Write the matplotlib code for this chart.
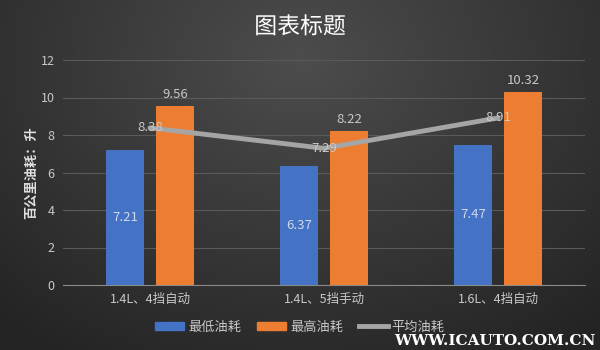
import numpy as np
import matplotlib
matplotlib.use("Agg")
import matplotlib.pyplot as plt
import matplotlib.patheffects as pe

plt.rcParams['font.family'] = ['Noto Sans CJK SC', 'DejaVu Sans']

categories = ["1.4L、4挡自动", "1.4L、5挡手动", "1.6L、4挡自动"]
low_vals = [7.21, 6.37, 7.47]
high_vals = [9.56, 8.22, 10.32]
avg_vals = [8.38, 7.29, 8.91]
avg_labels = ["8.38", "7.29", "8.91"]

BLUE, ORANGE, GRAY = "#4472C4", "#ED7D31", "#A5A5A5"
TXT = "#C8C8C8"

fig = plt.figure(figsize=(6, 3.5), dpi=100)

# dark radial background
bg = fig.add_axes([0, 0, 1, 1], zorder=-10)
yy, xx = np.mgrid[0:350, 0:600]
d = np.sqrt(((xx - 300) / 420) ** 2 + ((yy - 60) / 330) ** 2)
shade = np.clip(0.30 - 0.15 * d, 0.14, 0.30)
bg.imshow(np.dstack([shade] * 3), aspect="auto", extent=[0, 1, 0, 1])
bg.axis("off")

ax = fig.add_axes([63 / 600, 1 - 285 / 350, 522 / 600, 225 / 350])
ax.patch.set_alpha(0)
x = np.arange(len(categories))
w = 0.217
off = 0.143
ax.bar(x - off, low_vals, w, color=BLUE, zorder=3)
ax.bar(x + off, high_vals, w, color=ORANGE, zorder=3)
ax.plot(x, avg_vals, color=GRAY, lw=3.5, zorder=4, solid_capstyle="round")

for i in range(len(x)):
    ax.text(x[i] - off, low_vals[i] / 2, f"{low_vals[i]:.2f}", ha="center", va="center",
            color="#D0D8EC", fontsize=9.5, zorder=5)
    ax.text(x[i] + off, high_vals[i] + 0.25, f"{high_vals[i]:.2f}", ha="center", va="bottom",
            color=TXT, fontsize=9.5, zorder=5)
    ax.text(x[i], avg_vals[i], avg_labels[i], ha="center", va="center",
            color=TXT, fontsize=9.5, zorder=5)

ax.set_xlim(-0.5, 2.5)
ax.set_ylim(0, 12)
ax.set_yticks(range(0, 13, 2))
ax.set_xticks(x)
ax.set_xticklabels(categories)
ax.grid(axis="y", color="#5A5A5A", lw=0.8, zorder=0)
ax.tick_params(colors=TXT, labelsize=9, length=0, pad=6)
for s in ["top", "right", "left"]:
    ax.spines[s].set_visible(False)
ax.spines["bottom"].set_color("#8A8A8A")
ax.set_ylabel("百公里油耗：升", color="#E0E0E0", fontsize=9.5, fontweight="bold", labelpad=2)

fig.text(0.5, 1 - 27 / 350, "图表标题", ha="center", va="center", color="white",
         fontsize=16.5, fontweight="medium",
         path_effects=[pe.SimpleLineShadow(offset=(1, -1), alpha=0.6), pe.Normal()])

leg_handles = [plt.Rectangle((0, 0), 1, 1, color=BLUE), plt.Rectangle((0, 0), 1, 1, color=ORANGE),
               plt.Line2D([], [], color=GRAY, lw=3.5)]
leg = fig.legend(leg_handles, ["最低油耗", "最高油耗", "平均油耗"], loc="center",
                 bbox_to_anchor=(0.5, 1 - 327 / 350), ncol=3, frameon=False, fontsize=9.5,
                 handlelength=2.2, handleheight=0.5, columnspacing=1.2, handletextpad=0.3)
for t in leg.get_texts():
    t.set_color(TXT)

fig.text(0.993, 0.006, "WWW.ICAUTO.COM.CN", ha="right", va="bottom", color="white",
         fontsize=11, fontweight="bold", family="DejaVu Serif")

fig.savefig("out.png", dpi=100)
